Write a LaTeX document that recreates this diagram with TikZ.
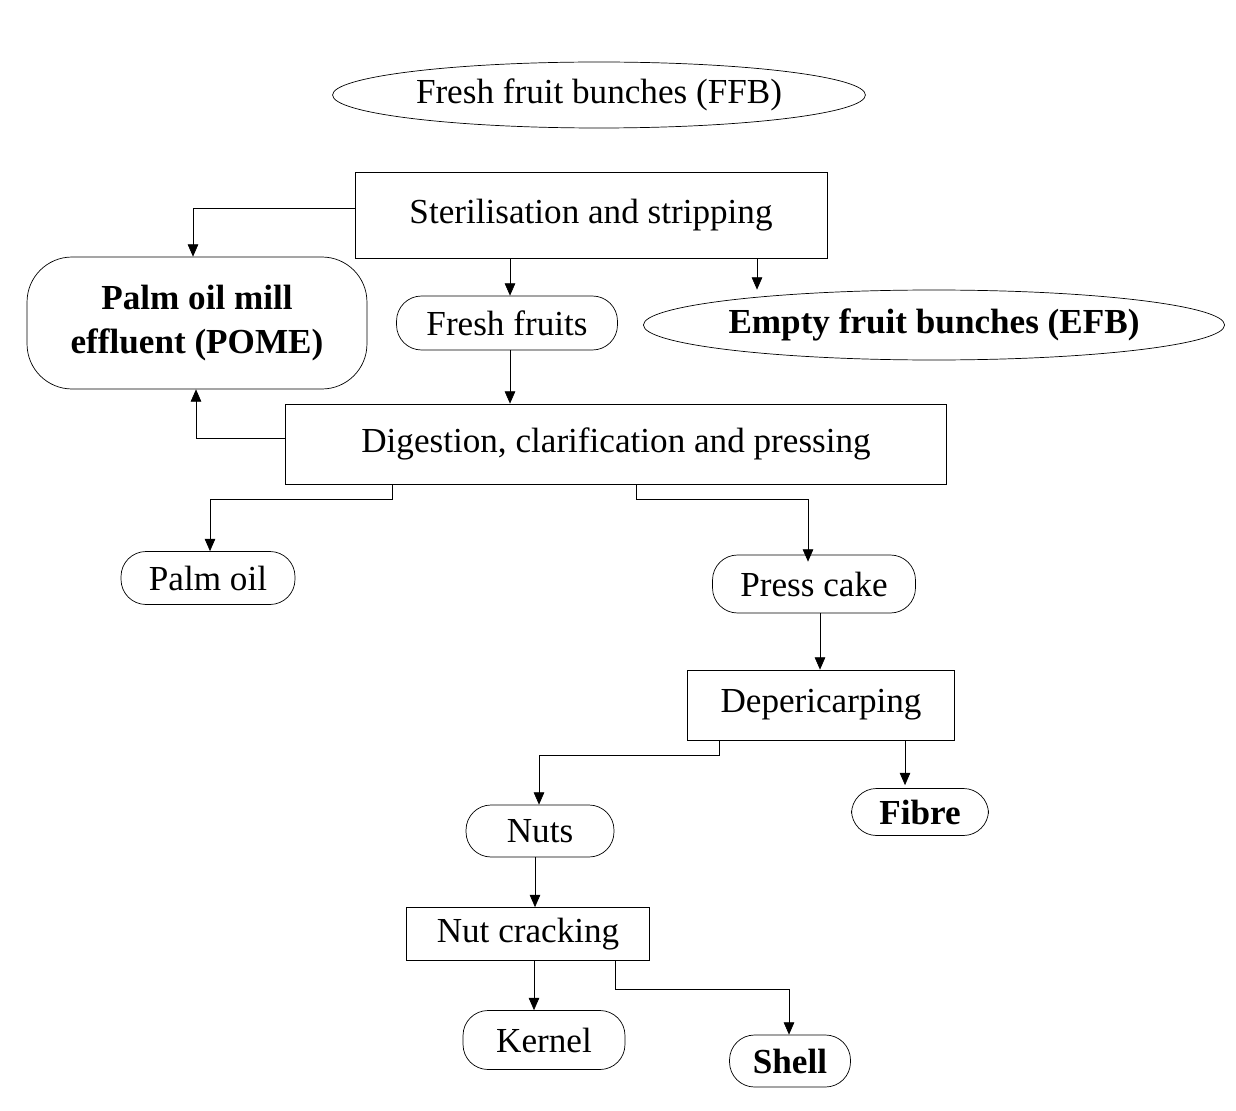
\documentclass[tikz,border=0pt]{standalone}
\usepackage{fontspec}
\setmainfont{Liberation Serif}
\usetikzlibrary{shapes.geometric,arrows.meta,calc,positioning}
\begin{document}
\begin{tikzpicture}[x=0.02cm,y=-0.02cm,
    every node/.style={font=\fontsize{20}{24}\selectfont, inner sep=0pt, align=center},
    box/.style={draw, rectangle},
    pill/.style={draw, rectangle, rounded corners=0.5cm},
    oval/.style={draw, ellipse},
    flow/.style={-{Triangle[length=7pt,width=6pt]}}]
    \useasboundingbox (0,0) rectangle (1236,1111);

    % inputs and main steps
    \node (ffb) [oval, minimum width=10.66cm, minimum height=1.32cm] at (599,95) {Fresh fruit bunches (FFB)};
    \node (ster) [box, minimum width=9.44cm, minimum height=1.72cm] at (591,215) {Sterilisation and stripping};
    \node (pome) [pill, rounded corners=0.9cm, minimum width=6.8cm, minimum height=2.64cm, font=\fontsize{20}{25}\selectfont\bfseries] at (197,323) {Palm oil mill\\effluent (POME)};
    \node (fruit) [pill, minimum width=4.42cm, minimum height=1.08cm] at (507,323) {Fresh fruits};
    \node (efb) [oval, minimum width=10.66cm, minimum height=1.4cm, font=\fontsize{20}{24}\selectfont\bfseries] at (934,325) {Empty fruit bunches (EFB)};
    \node (dig) [box, minimum width=13.22cm, minimum height=1.6cm] at (616,444) {Digestion, clarification and pressing};
    \node (oil) [pill, minimum width=3.48cm, minimum height=1.06cm] at (208,578) {Palm oil};
    \node (cake) [pill, minimum width=4.06cm, minimum height=1.16cm] at (814,584) {Press cake};
    \node (dep) [box, minimum width=5.34cm, minimum height=1.4cm] at (821,705) {Depericarping};
    \node (fibre) [pill, minimum width=2.74cm, minimum height=0.94cm, font=\fontsize{20}{24}\selectfont\bfseries] at (920,812) {Fibre};
    \node (nuts) [pill, minimum width=2.96cm, minimum height=1.04cm] at (540,831) {Nuts};
    \node (crack) [box, minimum width=4.86cm, minimum height=1.06cm] at (528,934) {Nut cracking};
    \node (kernel) [pill, minimum width=3.24cm, minimum height=1.18cm] at (544,1040) {Kernel};
    \node (shell) [pill, minimum width=2.42cm, minimum height=1.04cm, font=\fontsize{20}{24}\selectfont\bfseries] at (790,1061) {Shell};

    % connectors
    \coordinate (s1) at (193,208);
    \draw[flow] (ster.west |- s1) -- (s1) -- (s1 |- pome.north);
    \draw[flow] (ster.south -| 510,0) -- (fruit.north -| 510,0);
    \draw[flow] (ster.south -| 757,0) -- (efb.north -| 757,0);
    \draw[flow] (fruit.south -| 510,0) -- (dig.north -| 510,0);
    \coordinate (d1) at (196,438);
    \draw[flow] (dig.west |- d1) -- (d1) -- (d1 |- pome.south);
    \coordinate (d2) at (392,499);
    \draw[flow] (dig.south -| d2) -- (d2) -| (oil.north -| 210,0);
    \coordinate (d3) at (636,499);
    \draw[flow] (dig.south -| d3) -- (d3) -| ([yshift=-0.14cm]cake.north -| 808,0);
    \draw[flow] (cake.south -| 820,0) -- (dep.north -| 820,0);
    \coordinate (p1) at (719,755);
    \draw[flow] (dep.south -| p1) -- (p1) -| (nuts.north -| 539,0);
    \draw[flow] (dep.south -| 905,0) -- ([yshift=0.06cm]fibre.north -| 905,0);
    \draw[flow] (nuts.south -| 535,0) -- (crack.north -| 535,0);
    \draw[flow] (crack.south -| 534,0) -- (kernel.north -| 534,0);
    \coordinate (c1) at (615,989);
    \draw[flow] (crack.south -| c1) -- (c1) -| (shell.north -| 789,0);
\end{tikzpicture}
\end{document}
